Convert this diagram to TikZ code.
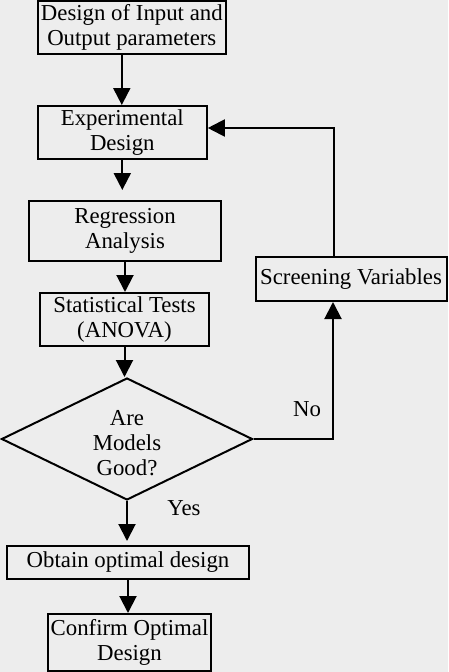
\documentclass[tikz,border=0pt]{standalone}
\usepackage{fontspec}
\setmainfont{Liberation Serif}
\usetikzlibrary{arrows.meta,shapes.geometric}
\begin{document}
\begin{tikzpicture}[x=1pt,y=-1pt,
  every node/.style={font=\fontsize{22.8}{25.3}\selectfont},
  box/.style={draw=black,line width=2pt,rectangle,inner sep=0pt,align=center},
  dec/.style={draw=black,line width=2pt,diamond,inner sep=0pt,aspect=2,align=center},
  flow/.style={draw=black,line width=2pt,-{Triangle[length=17pt,width=17pt]}},
  lbl/.style={inner sep=0pt,align=center}]
\fill[fill=black!7] (0,0) rectangle (448,672);
\useasboundingbox (0,0) rectangle (448,672);
\node[box,minimum width=188pt,minimum height=53pt] (a) at (131.8,27.5) {Design of Input and\\Output parameters};
\node[box,minimum width=169pt,minimum height=53pt] (e) at (122.3,132.5) {Experimental\\Design};
\node[box,minimum width=192pt,minimum height=60pt] (r) at (125,231) {Regression\\Analysis};
\node[box,minimum width=169pt,minimum height=53pt] (t) at (124.5,319.5) {Statistical Tests\\(ANOVA)};
\node[dec,minimum width=251pt,minimum height=122pt] (d) at (127,439) {};
\node[lbl] (dt) at (127,443) {Are\\Models\\Good?};
\node[box,minimum width=191pt,minimum height=44pt] (s) at (351,279) {Screening Variables};
\node[box,minimum width=242pt,minimum height=33pt] (o) at (128,562.5) {Obtain optimal design};
\node[box,minimum width=163pt,minimum height=57pt] (c) at (129.5,642.5) {Confirm Optimal\\Design};
\node[lbl] (no) at (307,409) {No};
\node[lbl] (yes) at (184,508) {Yes};
\draw[flow] ([xshift=-10pt]a.south) -- ([xshift=-10pt]a.south |- e.north);
\draw[flow,shorten >=10pt] (e.south) -- (e.south |- r.north);
\draw[flow] (r.south) -- (r.south |- t.north);
\draw[flow] (t.south) -- (t.south |- d.north);
\draw[flow,shorten >=4pt] (d.south) -- (d.south |- o.north);
\draw[flow] (o.south) -- (o.south |- c.north);
\draw[flow] (d.east) -| ([xshift=-18pt]s.south);
\draw[flow] ([xshift=-17pt]s.north) |- ([yshift=4.5pt]e.east);
\end{tikzpicture}
\end{document}
